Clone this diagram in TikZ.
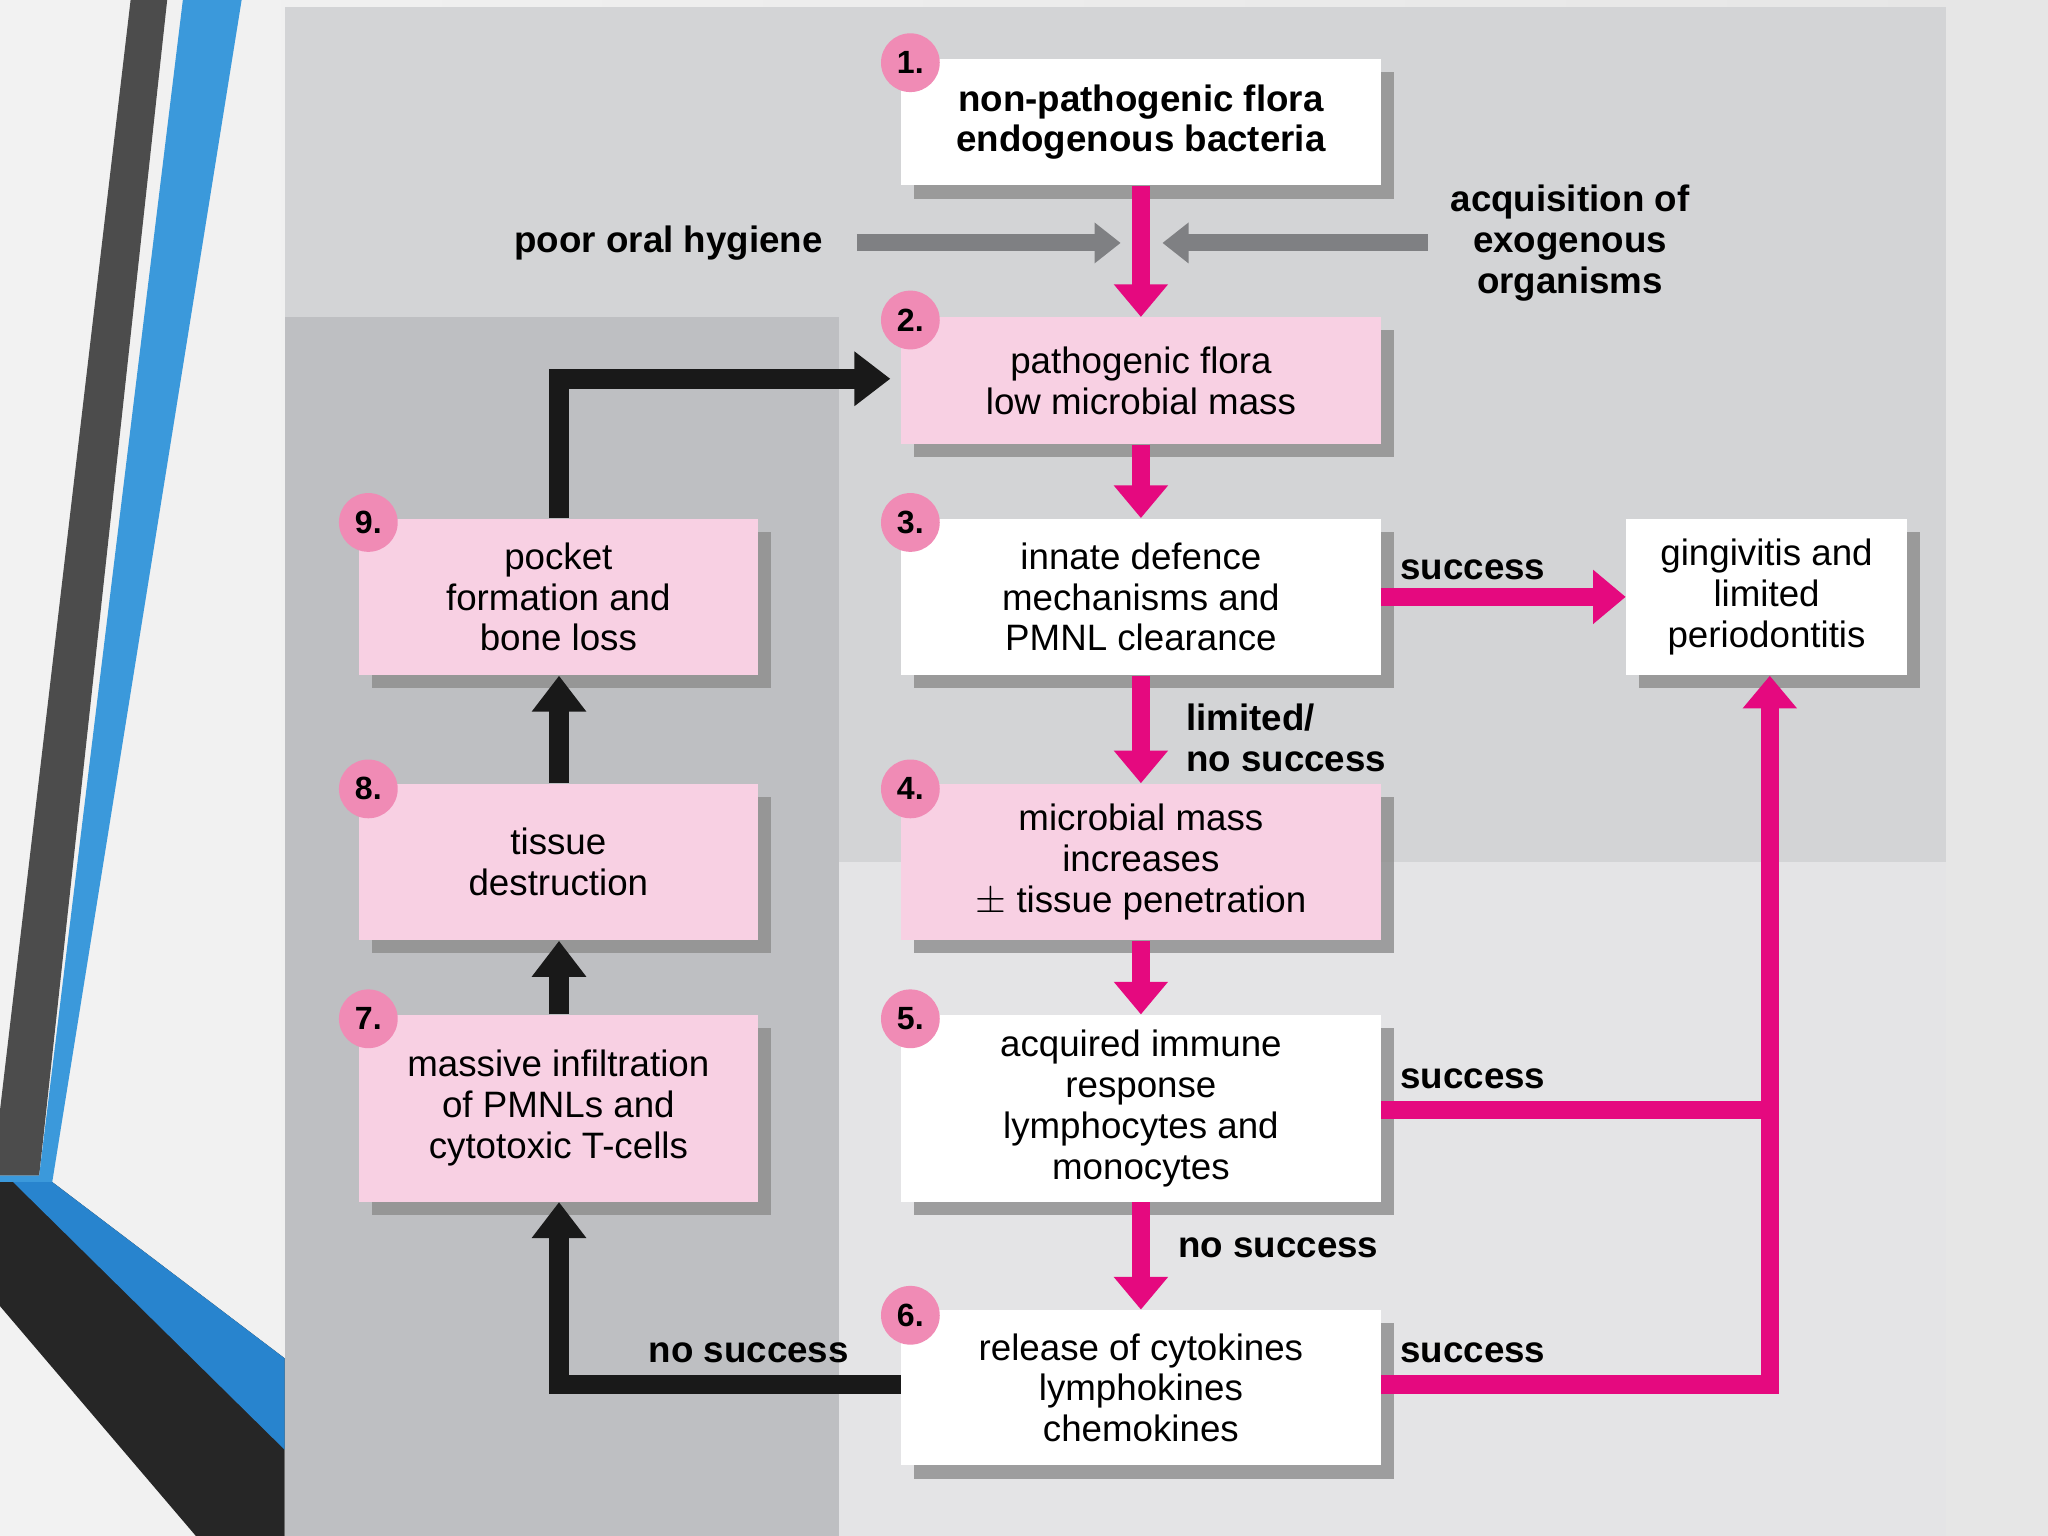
\documentclass[tikz,border=0pt]{standalone}
\usepackage{fontspec}
\setmainfont{Liberation Sans}
\usetikzlibrary{arrows.meta,shadows,calc}
\definecolor{mag}{HTML}{E5097F}
\definecolor{pinkbox}{HTML}{F8D0E3}
\definecolor{circ}{HTML}{F08BB5}
\definecolor{topgray}{HTML}{D3D4D6}
\definecolor{leftgray}{HTML}{BEBFC2}
\definecolor{lowgray}{HTML}{E4E4E6}
\definecolor{arrgray}{HTML}{7F8083}
\begin{document}
\begin{tikzpicture}[x=0.02cm,y=-0.02cm,
 box/.style={draw=none,minimum width=7.34cm,align=center,font=\fontsize{16}{17.8}\selectfont,
   drop shadow={shadow xshift=0.2cm,shadow yshift=-0.2cm,fill=black!45,opacity=0.8}},
 wbox/.style={box,fill=white},
 pbox/.style={box,fill=pinkbox},
 num/.style={circle,fill=circ,minimum size=0.9cm,inner sep=0,font=\bfseries\fontsize{14}{16}\selectfont},
 lab/.style={font=\bfseries\fontsize{16}{17.8}\selectfont,align=center},
 marr/.style={draw=mag,line width=0.28cm,-{Triangle[width=0.8cm,length=0.5cm]}},
 mline/.style={draw=mag,line width=0.28cm},
 karr/.style={draw=black!90,line width=0.3cm,-{Triangle[width=0.8cm,length=0.55cm]}},
 garr/.style={draw=arrgray,line width=0.26cm,-{Triangle[width=0.6cm,length=0.4cm]}}]
\useasboundingbox (0,0) rectangle (1568,1176);
\shade[left color=white!90!gray,right color=white!80!gray] (0,0) rectangle (1568,1176);
% decorations
\fill[black!70] (100,0) -- (128,0) -- (30,900) -- (0,900) -- (0,850) -- cycle;
\fill[cyan!70!blue!80] (140,0) -- (185,0) -- (40,905) -- (0,905) -- (0,900) -- (30,900)-- cycle;
\fill[black!85] (0,905) -- (40,905) -- (218,1040) -- (218,1176) -- (150,1176) -- (0,1000) -- cycle;
\fill[cyan!60!blue!90] (40,905) -- (218,1040) -- (218,1110) -- (10,905) -- cycle;
% panel
\fill[topgray] (218,5) rectangle (1490,1176);
\fill[lowgray] (642,660) rectangle (1490,1176);
\fill[leftgray] (218,243) rectangle (642,1176);
% boxes
\node[wbox,minimum height=1.94cm,font=\bfseries\fontsize{16}{17.8}\selectfont] (b1) at (873.5,93.5) {non-pathogenic flora\\endogenous bacteria};
\node[pbox,minimum height=1.94cm] (b2) at (873.5,291.5) {pathogenic flora\\low microbial mass};
\node[wbox,minimum height=2.4cm] (b3) at (873.5,457) {innate defence\\mechanisms and\\PMNL clearance};
\node[wbox,minimum width=4.3cm,minimum height=2.4cm] (bg) at (1352.5,457) {gingivitis and\\limited\\periodontitis};
\node[pbox,minimum height=2.4cm] (b4) at (873.5,660) {microbial mass\\increases\\$\pm$ tissue penetration};
\node[wbox,minimum height=2.86cm] (b5) at (873.5,848.5) {acquired immune\\response\\lymphocytes and\\monocytes};
\node[wbox,minimum height=2.38cm] (b6) at (873.5,1062.5) {release of cytokines\\lymphokines\\chemokines};
\node[pbox,minimum width=6.1cm,minimum height=2.4cm] (b9) at (427.5,457) {pocket\\formation and\\bone loss};
\node[pbox,minimum width=6.1cm,minimum height=2.4cm] (b8) at (427.5,660) {tissue\\destruction};
\node[pbox,minimum width=6.1cm,minimum height=2.86cm] (b7) at (427.5,848.5) {massive infiltration\\of PMNLs and\\cytotoxic T-cells};
% numbers
\foreach \n/\x/\y in {1/697/48,2/697/245,3/697/400,4/697/604,5/697/780,6/697/1007,9/282/400,8/282/604,7/282/780}
  \node[num] (n\n) at (\x,\y) {\n.};
% gray arrows
\node[lab,anchor=east] (poh) at (636,186) {poor oral hygiene};
\node[lab] (acq) at (1202,186) {acquisition of\\exogenous\\organisms};
\coordinate (gl) at (858,186); \coordinate (gr) at (890,186);
\draw[garr] (poh.east)++(20,0) -- (gl);
\draw[garr] (1093,186) -- (gr);
% magenta flow
\draw[marr] (b1.south) -- (b2.north);
\draw[marr] (b2.south) -- (b3.north);
\draw[marr] (b3.east) -- (bg.west);
\node[lab,anchor=south west] at (1066,450) {success};
\draw[marr] (b3.south) -- (b4.north);
\node[lab,anchor=west,align=left] at (902,565) {limited/\\no success};
\draw[marr] (b4.south) -- (b5.north);
\draw[marr] (b5.south) -- (b6.north);
\node[lab,anchor=west] at (896,955) {no success};
\coordinate (c5) at (1355,850);
\coordinate (c6) at (1355,1060);
\draw[mline] (b5.east|-c5) -- (c5);
\node[lab,anchor=south west] at (1066,840) {success};
\draw[mline] (b6.east|-c6) -- (c6);
\node[lab,anchor=south west] at (1066,1050) {success};
\draw[marr] ($(c6)+(0,7)$) -- (bg.south-|c6);
% black loop
\coordinate (k1) at (428,1060);
\coordinate (k2) at (428,290);
\draw[karr] (b6.west|-k1) -- (k1) -- (b7.south-|k1);
\node[lab,anchor=south east] at (656,1050) {no success};
\draw[karr] (b7.north-|k1) -- (b8.south-|k1);
\draw[karr] (b8.north-|k1) -- (b9.south-|k1);
\draw[karr] (b9.north-|k2) -- (k2) -- ($(b2.west|-k2)+(-8,0)$);
\end{tikzpicture}
\end{document}
